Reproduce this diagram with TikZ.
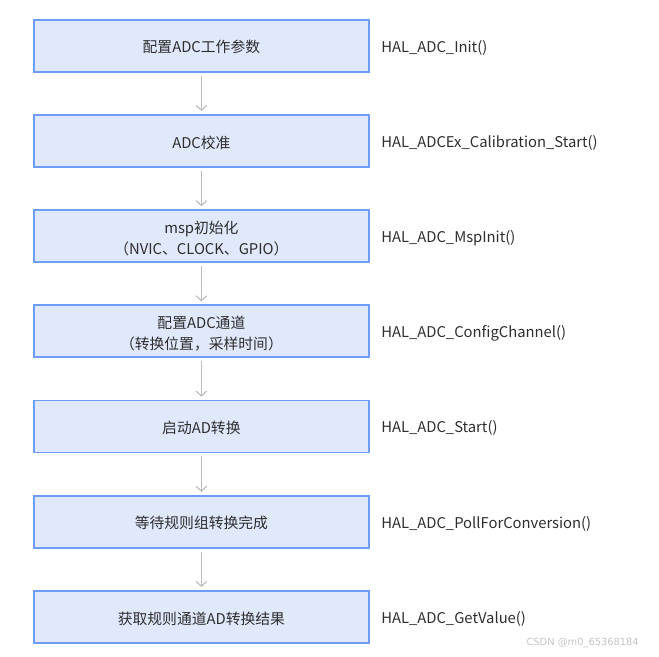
\documentclass[tikz,border=0pt]{standalone}
\usepackage{fontspec}
\setmainfont{Noto Sans CJK SC}
\newfontfamily\wmfont{DejaVu Sans}
\usetikzlibrary{arrows.meta}
\definecolor{boxfill}{HTML}{E0E8FB}
\definecolor{boxline}{HTML}{6F9CF6}
\definecolor{arrgray}{HTML}{BDBDBD}
\definecolor{txt}{HTML}{2E2E2E}
\definecolor{wm}{HTML}{C4C4C4}
\begin{document}
\begin{tikzpicture}[x=0.75pt,y=-0.75pt,
  stepbox/.style={draw=boxline,line width=1.4pt,fill=boxfill,minimum width=251pt,minimum height=39pt,inner sep=0pt,align=center,font=\fontsize{11.1pt}{15.8pt}\selectfont,text=txt},
  steptext/.style={inner sep=0pt,align=center,font=\fontsize{11.1pt}{15.8pt}\selectfont,text=txt},
  fnlabel/.style={anchor=west,inner sep=0pt,font=\fontsize{11.1pt}{13pt}\selectfont,text=txt},
  flow/.style={draw=arrgray,line width=0.9pt,-{Straight Barb[length=3.6pt,width=8pt,line width=0.9pt]},shorten >=2.2pt,shorten <=2.2pt}]
\useasboundingbox (0,0) rectangle (659,656);
\node[stepbox] (b1) at (201.4,45.7) {};
\node[stepbox] (b2) at (201.4,140.9) {};
\node[stepbox] (b3) at (201.4,236.1) {};
\node[stepbox] (b4) at (201.4,331.3) {};
\node[stepbox] (b5) at (201.4,426.5) {};
\node[stepbox] (b6) at (201.4,521.7) {};
\node[stepbox] (b7) at (201.4,616.9) {};
\node[steptext] (t1) at (201.4,47.3) {配置ADC工作参数};
\node[steptext] (t2) at (201.4,142.5) {ADC校准};
\node[steptext] (t3) at (201.4,238.1) {msp初始化\\（NVIC、CLOCK、GPIO）};
\node[steptext] (t4) at (201.4,333.3) {配置ADC通道\\（转换位置，采样时间）};
\node[steptext] (t5) at (201.4,428.1) {启动AD转换};
\node[steptext] (t6) at (201.4,523.3) {等待规则组转换完成};
\node[steptext] (t7) at (201.4,618.5) {获取规则通道AD转换结果};
\node[fnlabel] (f1) at (381,47.4) {HAL\_ADC\_Init()};
\node[fnlabel] (f2) at (381,142.6) {HAL\_ADCEx\_Calibration\_Start()};
\node[fnlabel] (f3) at (381,237.8) {HAL\_ADC\_MspInit()};
\node[fnlabel] (f4) at (381,333) {HAL\_ADC\_ConfigChannel()};
\node[fnlabel] (f5) at (381,428.2) {HAL\_ADC\_Start()};
\node[fnlabel] (f6) at (381,523.4) {HAL\_ADC\_PollForConversion()};
\node[fnlabel] (f7) at (381,618.6) {HAL\_ADC\_GetValue()};
\draw[flow] (b1.south) -- (b2.north);
\draw[flow] (b2.south) -- (b3.north);
\draw[flow] (b3.south) -- (b4.north);
\draw[flow] (b4.south) -- (b5.north);
\draw[flow] (b5.south) -- (b6.north);
\draw[flow] (b6.south) -- (b7.north);
\node[anchor=east,inner sep=0pt,text=wm,font=\wmfont\fontsize{7.4pt}{9pt}\selectfont] (wmk) at (639,643) {CSDN @m0\_65368184};
\end{tikzpicture}
\end{document}
